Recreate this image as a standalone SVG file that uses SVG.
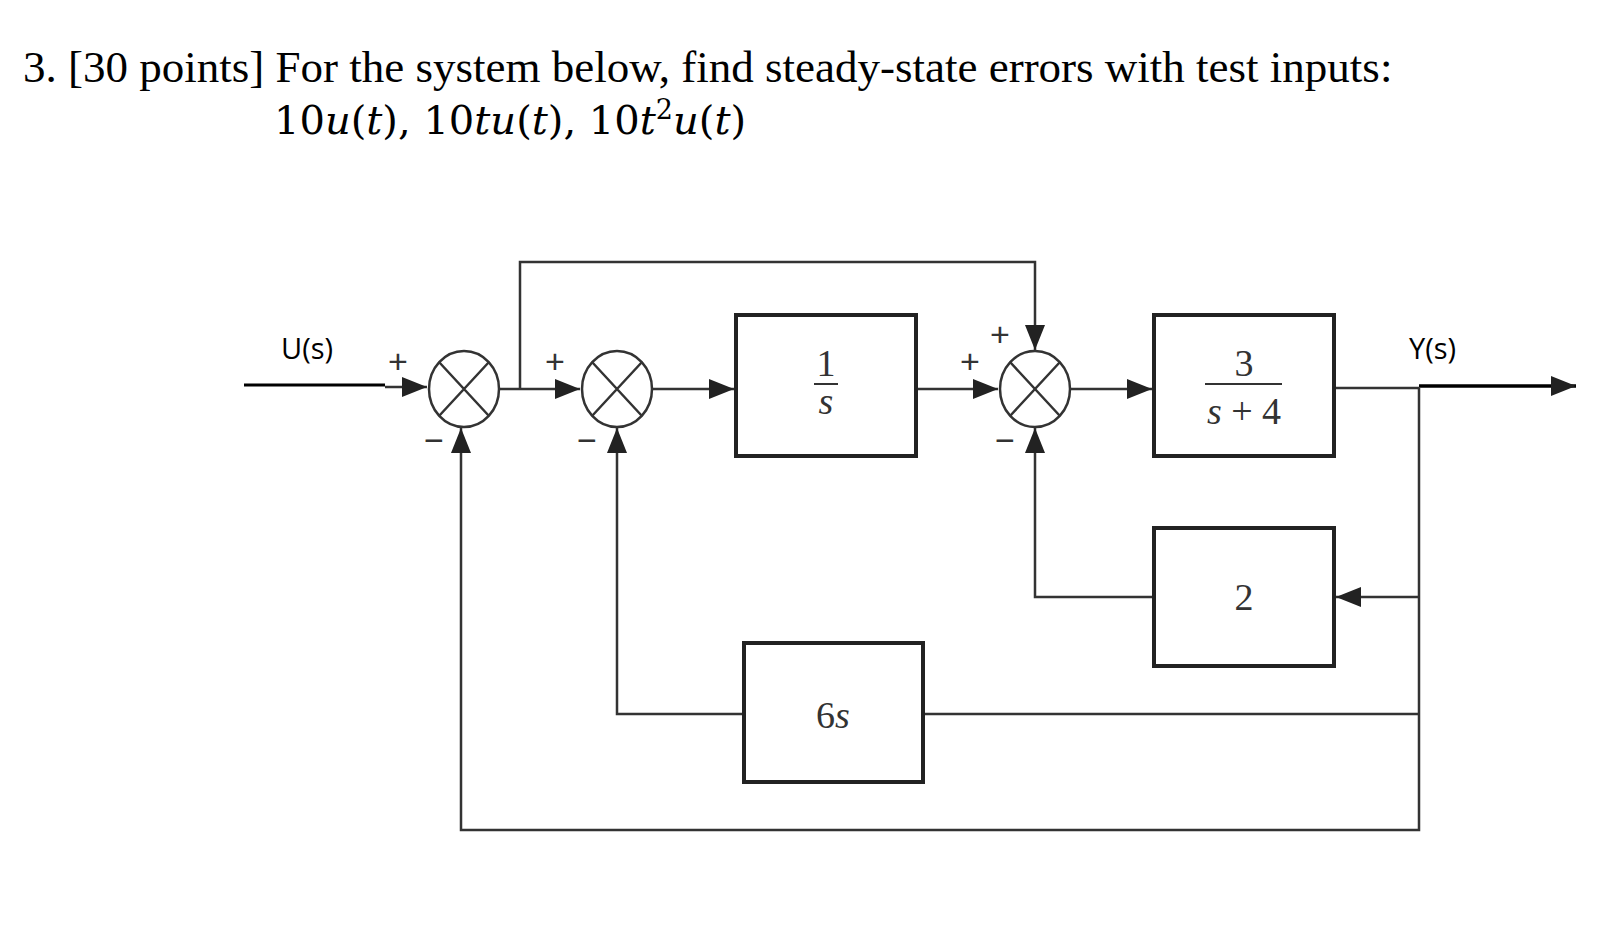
<svg xmlns="http://www.w3.org/2000/svg" width="1618" height="945" viewBox="0 0 1618 945">
<style>
.t{font-family:"Liberation Serif",serif;fill:#000}
.m{font-family:"DejaVu Serif","Liberation Serif",serif;fill:#000}
.sans{font-family:"Open Sans","Liberation Sans",sans-serif;font-size:29px;fill:#000}
.box{fill:#fff;stroke:#222;stroke-width:4}
.sum{fill:#fff;stroke:#333;stroke-width:2.5}
.w{fill:none;stroke:#333;stroke-width:2.5}
.sg{font-family:"Liberation Sans",sans-serif;font-size:34px;fill:#333}
.bt{font-family:"Liberation Serif",serif;font-size:38px;fill:#333;text-anchor:middle}
</style>
<defs>
<marker id="A" viewBox="0 0 10 8" refX="10" refY="4" markerWidth="26" markerHeight="20" orient="auto" markerUnits="userSpaceOnUse"><path d="M0,0L10,4L0,8z" fill="#222"/></marker>
</defs>
<text class="t" x="23" y="82" font-size="45">3. [30 points] For the system below, find steady-state errors with test inputs:</text>
<text class="m" x="274" y="134" font-size="40"><tspan>10</tspan><tspan font-style="italic">u</tspan>(<tspan font-style="italic">t</tspan>), 10<tspan font-style="italic">tu</tspan>(<tspan font-style="italic">t</tspan>), 10<tspan font-style="italic">t</tspan><tspan font-size="27" dy="-15">2</tspan><tspan dy="15" font-style="italic">u</tspan>(<tspan font-style="italic">t</tspan>)</text>
<g id="connectors">
<line x1="244" y1="385" x2="385" y2="385" stroke="#000" stroke-width="3"/>
<line x1="385" y1="387" x2="427" y2="387" class="w" marker-end="url(#A)"/>
<line x1="499" y1="389" x2="580" y2="389" class="w" marker-end="url(#A)"/>
<polyline points="520,389 520,262 1035,262 1035,350" class="w" marker-end="url(#A)"/>
<line x1="652" y1="389" x2="734" y2="389" class="w" marker-end="url(#A)"/>
<line x1="916" y1="389" x2="998" y2="389" class="w" marker-end="url(#A)"/>
<line x1="1070" y1="389" x2="1152" y2="389" class="w" marker-end="url(#A)"/>
<polyline points="1334,388 1419,388" class="w"/>
<line x1="1419" y1="386" x2="1576" y2="386" stroke="#000" stroke-width="3.5" marker-end="url(#A)"/>
<polyline points="1419,388 1419,830 461,830 461,428" class="w" marker-end="url(#A)"/>
<polyline points="1419,597 1336,597" class="w" marker-end="url(#A)"/>
<polyline points="1154,597 1035,597 1035,428" class="w" marker-end="url(#A)"/>
<polyline points="1419,714 923,714" class="w"/>
<polyline points="744,714 617,714 617,428" class="w" marker-end="url(#A)"/>
</g>
<text class="sans" x="281" y="359">U(s)</text>
<text class="sans" x="1409" y="359">Y(s)</text>
<g id="sum1"><ellipse class="sum" cx="464" cy="389" rx="35" ry="38"/><path class="w" d="M439,362L489,416M489,362L439,416"/><text class="sg" x="388" y="373">+</text><text class="sg" x="424" y="452">−</text></g>
<g id="sum2"><ellipse class="sum" cx="617" cy="389" rx="35" ry="38"/><path class="w" d="M592,362L642,416M642,362L592,416"/><text class="sg" x="545" y="373">+</text><text class="sg" x="577" y="452">−</text></g>
<g id="sum3"><ellipse class="sum" cx="1035" cy="389" rx="35" ry="38"/><path class="w" d="M1010,362L1060,416M1060,362L1010,416"/><text class="sg" x="960" y="373">+</text><text class="sg" x="990" y="346">+</text><text class="sg" x="995" y="452">−</text></g>
<g id="b1"><rect class="box" x="736" y="315" width="180" height="141"/><text class="bt" x="826" y="376" font-size="34">1</text><line x1="814" y1="384" x2="838" y2="384" stroke="#333" stroke-width="2"/><text class="bt" x="826" y="414" font-size="34" font-style="italic">s</text></g>
<g id="b2"><rect class="box" x="1154" y="315" width="180" height="141"/><text class="bt" x="1244" y="376" font-size="36">3</text><line x1="1205" y1="384" x2="1282" y2="384" stroke="#333" stroke-width="2"/><text class="bt" x="1244" y="424" font-size="36"><tspan font-style="italic">s</tspan> + 4</text></g>
<g id="b3"><rect class="box" x="1154" y="528" width="180" height="138"/><text class="bt" x="1244" y="610">2</text></g>
<g id="b4"><rect class="box" x="744" y="643" width="179" height="139"/><text class="bt" x="833" y="728">6<tspan font-style="italic">s</tspan></text></g>
</svg>
